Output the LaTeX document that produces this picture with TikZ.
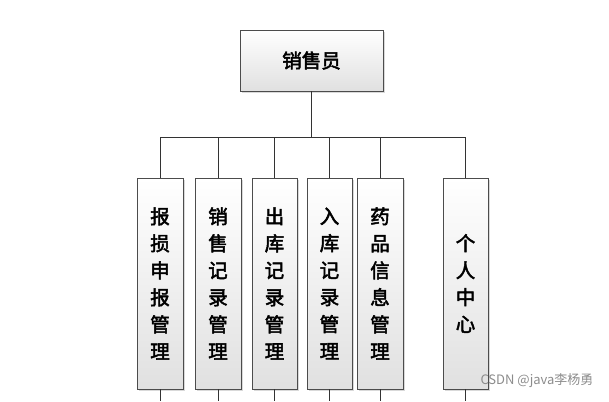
\documentclass[tikz,border=0pt]{standalone}
\usepackage{fontspec}
\newfontfamily\cjk[AutoFakeBold=2.5]{Noto Sans CJK SC}
\usetikzlibrary{shadows}
\tikzset{
  box/.style={draw=black!70, line width=0.6pt, top color=white, bottom color=black!12,
    drop shadow={shadow xshift=2pt, shadow yshift=-2pt, fill=black!25, opacity=0.6},
    font=\cjk\bfseries\fontsize{19.5}{27}\selectfont, align=center, inner sep=0pt},
  link/.style={draw=black!80, line width=0.8pt}
}
\begin{document}
\begin{tikzpicture}[x=1pt, y=-1pt]
  \useasboundingbox (0,0) rectangle (609,401);
  % root
  \node[box, minimum width=143pt, minimum height=61pt] (root) at (311.5,60.5) {销售员};
  \coordinate (bus) at (311.5,137);
  % children
  \foreach \name/\cx/\w/\txt in {a/160/46/报\\损\\申\\报\\管\\理, b/218/46/销\\售\\记\\录\\管\\理,
      c/274.5/45/出\\库\\记\\录\\管\\理, d/329.5/45/入\\库\\记\\录\\管\\理,
      e/380/46/药\\品\\信\\息\\管\\理, f/465.5/45/个\\人\\中\\心} {
    \node[box, minimum width=\w pt, minimum height=211pt] (\name) at (\cx,283.5) {\txt};
    \coordinate (\name top) at (\cx,137);
    \coordinate (\name end) at (\cx,401);
    \draw[link] (\name top) -- (\name.north);
    \draw[link] (\name.south) -- (\name end);
  }
  \draw[link] (root.south) -- (bus);
  \draw[link] (atop) -- (ftop);
  % watermark
  \node[anchor=east, text=black!45, font=\cjk\fontsize{13}{15}\selectfont] (mark) at (597,381) {CSDN @java李杨勇};
\end{tikzpicture}
\end{document}
